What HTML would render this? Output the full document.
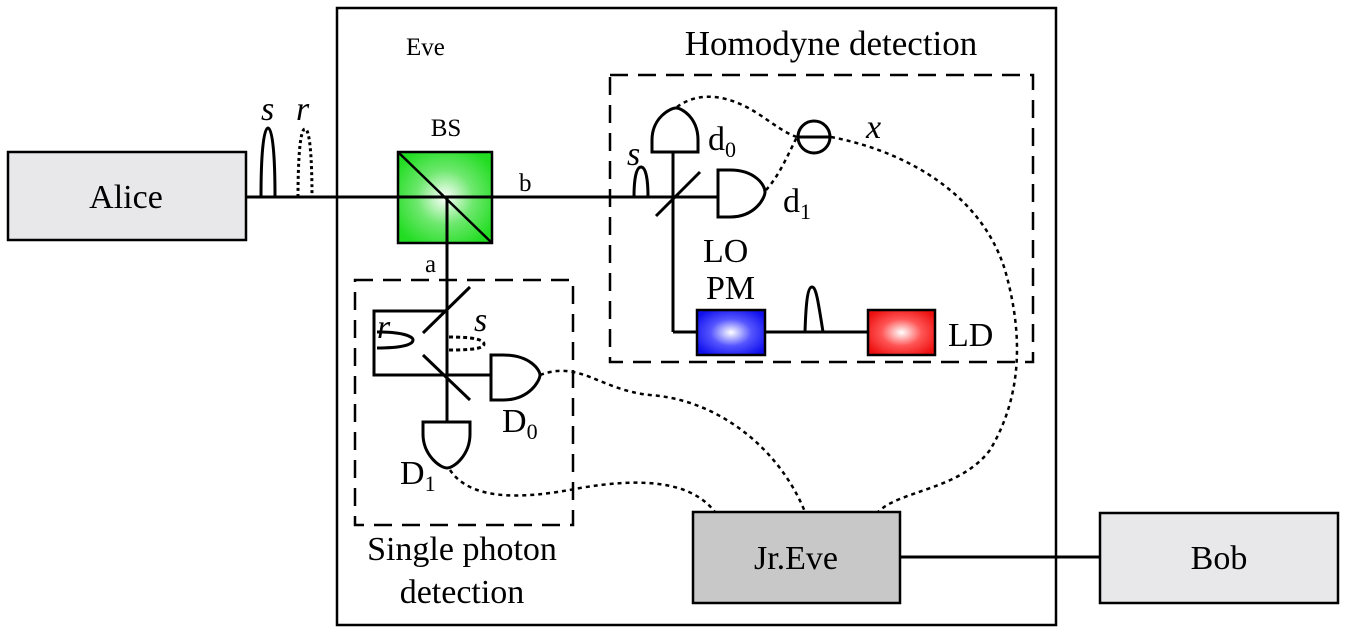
<!DOCTYPE html>
<html><head><meta charset="utf-8"><style>
html,body{margin:0;padding:0;background:#fff;}
svg{display:block;}
text{font-family:"Liberation Serif",serif;fill:#000;}
</style></head><body>
<svg width="1346" height="633" viewBox="0 0 1346 633" xmlns="http://www.w3.org/2000/svg">
<defs>
<radialGradient id="g" cx="0.5" cy="0.5" r="0.6"><stop offset="0" stop-color="#fff"/><stop offset="0.5" stop-color="#6ee86e"/><stop offset="1" stop-color="#22dd22"/></radialGradient>
<radialGradient id="bl" cx="0.5" cy="0.5" r="0.6"><stop offset="0" stop-color="#fff"/><stop offset="0.5" stop-color="#5555ff"/><stop offset="1" stop-color="#1010ee"/></radialGradient>
<radialGradient id="rd" cx="0.5" cy="0.5" r="0.6"><stop offset="0" stop-color="#fff"/><stop offset="0.5" stop-color="#ff5555"/><stop offset="1" stop-color="#ee1010"/></radialGradient>
</defs>
<g stroke="#000" stroke-width="3" fill="none">
<rect x="337" y="8" width="719" height="617" stroke-width="2.5"/>
<rect x="8" y="152" width="238" height="88" fill="#e8e8ea" stroke-width="2.5"/>
<rect x="1100" y="513" width="238" height="90" fill="#e8e8ea" stroke-width="2.5"/>
<rect x="693" y="512" width="207" height="91" fill="#c8c8c8" stroke-width="2.5"/>
<line x1="900" y1="557" x2="1100" y2="557"/>
<rect x="398" y="152" width="94" height="91" fill="url(#g)" stroke-width="2.5"/>
<line x1="398" y1="152" x2="492" y2="243" stroke-width="2.5"/>
<line x1="246" y1="197" x2="718" y2="197"/>
<path d="M261,197 C261,160 263,128 268,128 C273,128 275,160 275,197"/>
<path d="M298,197 C298,160 300,129 305,129 C310,129 312,160 312,197" stroke-dasharray="3,3"/>
<line x1="447" y1="197" x2="447" y2="422"/>
<rect x="355" y="280" width="218" height="245" stroke-dasharray="18,10" stroke-width="2.5"/>
<line x1="423" y1="333" x2="470" y2="287"/>
<line x1="423" y1="355" x2="470" y2="400"/>
<path d="M447,311 H374 V375 H491"/>
<path d="M377,332 C405,332 413,337 413,340 C413,344 405,348 377,348"/>
<path d="M449,337 C475,337 484,340 484,344 C484,348 475,350 449,350" stroke-dasharray="4,3"/>
<path d="M491,355 H503 C530,355 540,370 540,375 C540,380 530,400 503,400 H491 Z"/>
<path d="M423,422 V434 C423,455 440,468 447,468 C454,468 470,455 470,434 V422 Z"/>
<rect x="610" y="75" width="423" height="287" stroke-dasharray="18,10" stroke-width="2.5"/>
<line x1="656" y1="216" x2="700" y2="172"/>
<path d="M634,197 C634,180 636,167 641,167 C646,167 648,180 648,197"/>
<line x1="673" y1="152" x2="673" y2="332"/>
<path d="M652,152 V140 C652,118 670,108 676,108 C682,108 698,118 698,140 V152 Z"/>
<path d="M718,170 H730 C755,170 765,185 765,192 C765,198 755,217 730,217 H718 Z"/>
<circle cx="814" cy="137" r="16"/>
<line x1="797" y1="137" x2="831" y2="137"/>
<path d="M673,332 H697"/>
<rect x="697" y="310" width="68" height="45" fill="url(#bl)" stroke-width="2.5"/>
<line x1="765" y1="332" x2="868" y2="332"/>
<path d="M805,332 C806,300 808,287 812,287 C816,287 818,300 823,332"/>
<rect x="868" y="310" width="67" height="45" fill="url(#rd)" stroke-width="2.5"/>
<g stroke-dasharray="4,4" stroke-width="2.5">
<path d="M677,107 C700,90 730,95 760,115 C775,125 785,133 797,137"/>
<path d="M766,190 C780,175 790,150 797,137"/>
<path d="M831,137 C900,150 980,190 1005,270 C1025,340 1020,400 990,450 C960,490 900,490 878,512"/>
<path d="M540,375 C580,360 600,390 650,395 C720,400 780,450 805,512"/>
<path d="M450,470 C470,500 520,500 580,488 C640,478 690,480 715,512"/>
</g>
</g>
<g font-size="34">
<text x="126" y="208" text-anchor="middle">Alice</text>
<text x="1219" y="569" text-anchor="middle">Bob</text>
<text x="796" y="569" text-anchor="middle">Jr.Eve</text>
<text x="831" y="55" text-anchor="middle" font-size="35">Homodyne detection</text>
<text x="462" y="560" text-anchor="middle">Single photon</text>
<text x="462" y="603" text-anchor="middle">detection</text>
<text x="703" y="262">LO</text>
<text x="706" y="299">PM</text>
<text x="948" y="346">LD</text>
<text x="708" y="150">d<tspan font-size="22" dy="7">0</tspan></text>
<text x="783" y="212">d<tspan font-size="22" dy="7">1</tspan></text>
<text x="502" y="432">D<tspan font-size="22" dy="7">0</tspan></text>
<text x="400" y="484">D<tspan font-size="22" dy="7">1</tspan></text>
<text x="866" y="138" font-style="italic">x</text>
<text x="627" y="165" font-style="italic">s</text>
<text x="261" y="120" font-style="italic">s</text>
<text x="296" y="120" font-style="italic">r</text>
<text x="377" y="338" font-style="italic">r</text>
<text x="474" y="331" font-style="italic">s</text>
</g>
<g font-size="25">
<text x="406" y="55">Eve</text>
<text x="446" y="136" text-anchor="middle">BS</text>
<text x="519" y="191">b</text>
<text x="425" y="272">a</text>
</g>
</svg>
</body></html>
